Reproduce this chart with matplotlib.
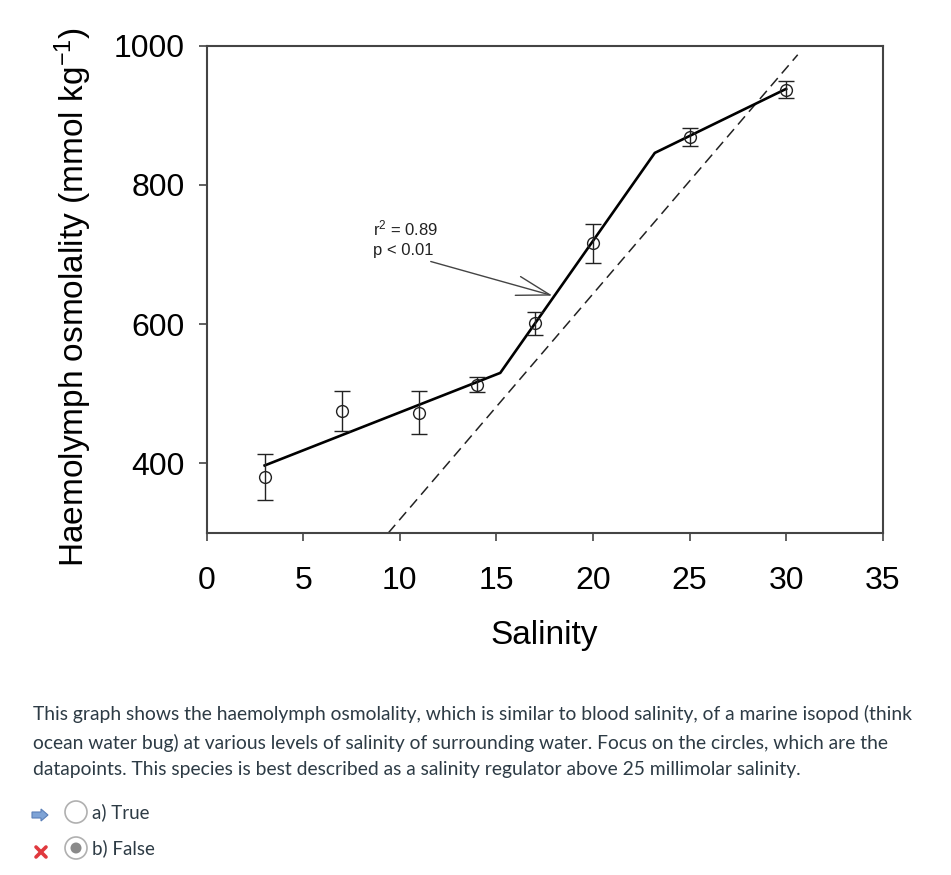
import matplotlib.pyplot as plt
from matplotlib.patches import Circle, Polygon
from matplotlib.lines import Line2D

# data
salinity = [3, 7, 11, 14, 17, 20, 25, 30]
osmolality = [381, 475, 473, 513, 601, 716, 869, 937]
osm_err = [33, 29, 31, 11, 16, 28, 13, 12]

fit_x = [3, 15.2, 23.2, 30]
fit_y = [397, 530, 846, 938]

iso_x = [9.4, 30.6]
iso_y = [300, 987]

x_ticks = [0, 5, 10, 15, 20, 25, 30, 35]
y_ticks = [400, 600, 800, 1000]

question = ("This graph shows the haemolymph osmolality, which is similar to blood salinity, of a marine isopod (think\n"
            "ocean water bug) at various levels of salinity of surrounding water. Focus on the circles, which are the\n"
            "datapoints. This species is best described as a salinity regulator above 25 millimolar salinity.")
answers = ["a) True", "b) False"]

W, H = 951, 875


def px(x, y):
    return x / W, 1 - y / H


plt.rcParams['font.family'] = ['Liberation Sans', 'DejaVu Sans']
plt.rcParams['mathtext.fontset'] = 'custom'
plt.rcParams['mathtext.rm'] = 'Liberation Sans'
plt.rcParams['mathtext.it'] = 'Liberation Sans:italic'

fig = plt.figure(figsize=(W / 100, H / 100), dpi=100)
ax = fig.add_axes([206.7 / W, 1 - 533 / H, (882.7 - 206.7) / W, (533 - 45.7) / H])

ax.plot(iso_x, iso_y, color='#222222', lw=1.1, dashes=(7, 4))
ax.plot(fit_x, fit_y, color='black', lw=1.9)
ax.errorbar(salinity, osmolality, yerr=osm_err, fmt='o', ms=8.5, mfc='none',
            mec='#222222', mew=1.0, ecolor='#222222', elinewidth=1.0,
            capsize=5.5, capthick=1.0)

ax.text(8.6, 738, r'r$^\mathrm{2}$ = 0.89', fontsize=12, va='center', color='#222222')
ax.text(8.6, 706, 'p < 0.01', fontsize=12, va='center', color='#222222')
ax.annotate('', xy=(17.9, 641), xytext=(11.6, 690),
            arrowprops=dict(arrowstyle='->, head_length=1.2, head_width=0.35',
                            color='#444444', lw=1.0,
                            mutation_scale=20, shrinkA=0, shrinkB=0))

ax.set_xlim(0, 35)
ax.set_ylim(300, 1000)
ax.set_xticks(x_ticks)
ax.set_yticks(y_ticks)
ax.tick_params(direction='out', length=6, width=1.2, color='#444444',
               labelsize=23, pad=10)
ax.tick_params(axis='x', pad=18)
for s in ax.spines.values():
    s.set_color('#444444')
    s.set_linewidth(1.5)
ax.set_xlabel('Salinity', fontsize=24, labelpad=17)
ax.set_ylabel(r'Haemolymph osmolality (mmol kg$^\mathrm{-1}$)', fontsize=24)
ax.yaxis.set_label_coords(-(206.7 - 94) / (882.7 - 206.7), (533 - 297) / (533 - 45.7))

# question text below the chart
fig.text(*px(33, 705), question, fontsize=13.85, family=['Lato', 'DejaVu Sans'],
         color='#2d3b45', va='top', ha='left', linespacing=1.7)

radio_y = [812, 848]
for lab, ry in zip(answers, radio_y):
    fig.patches.append(Circle((76, H - ry), 11, transform=None,
                              fc='white', ec='#b0b0b0', lw=1.2))
    fig.text(*px(92, ry), lab, fontsize=13.5, family=['Lato', 'DejaVu Sans'],
             color='#2d3b45', va='center', ha='left')

# selected radio dot
fig.patches.append(Circle((76, H - 848), 5.5, transform=None, fc='#8a8a8a', ec='none'))

# blue arrow icon next to the correct answer
ax_x, ax_y = 40, H - 815
arrow_pts = [(ax_x - 8, ax_y + 3), (ax_x + 1, ax_y + 3), (ax_x + 1, ax_y + 6),
             (ax_x + 8, ax_y), (ax_x + 1, ax_y - 6), (ax_x + 1, ax_y - 3),
             (ax_x - 8, ax_y - 3)]
fig.patches.append(Polygon(arrow_pts, closed=True, transform=None,
                           fc='#7ea3d6', ec='#5a7fb8', lw=0.8))

# red cross next to the chosen answer
rx, ry = 41, H - 852
for dx in (-1, 1):
    fig.lines.append(Line2D([rx - 5, rx + 5], [ry - 5 * dx, ry + 5 * dx],
                            transform=None, color='#e0393e', lw=2.6,
                            solid_capstyle='round'))

fig.savefig('out.png', dpi=100)
